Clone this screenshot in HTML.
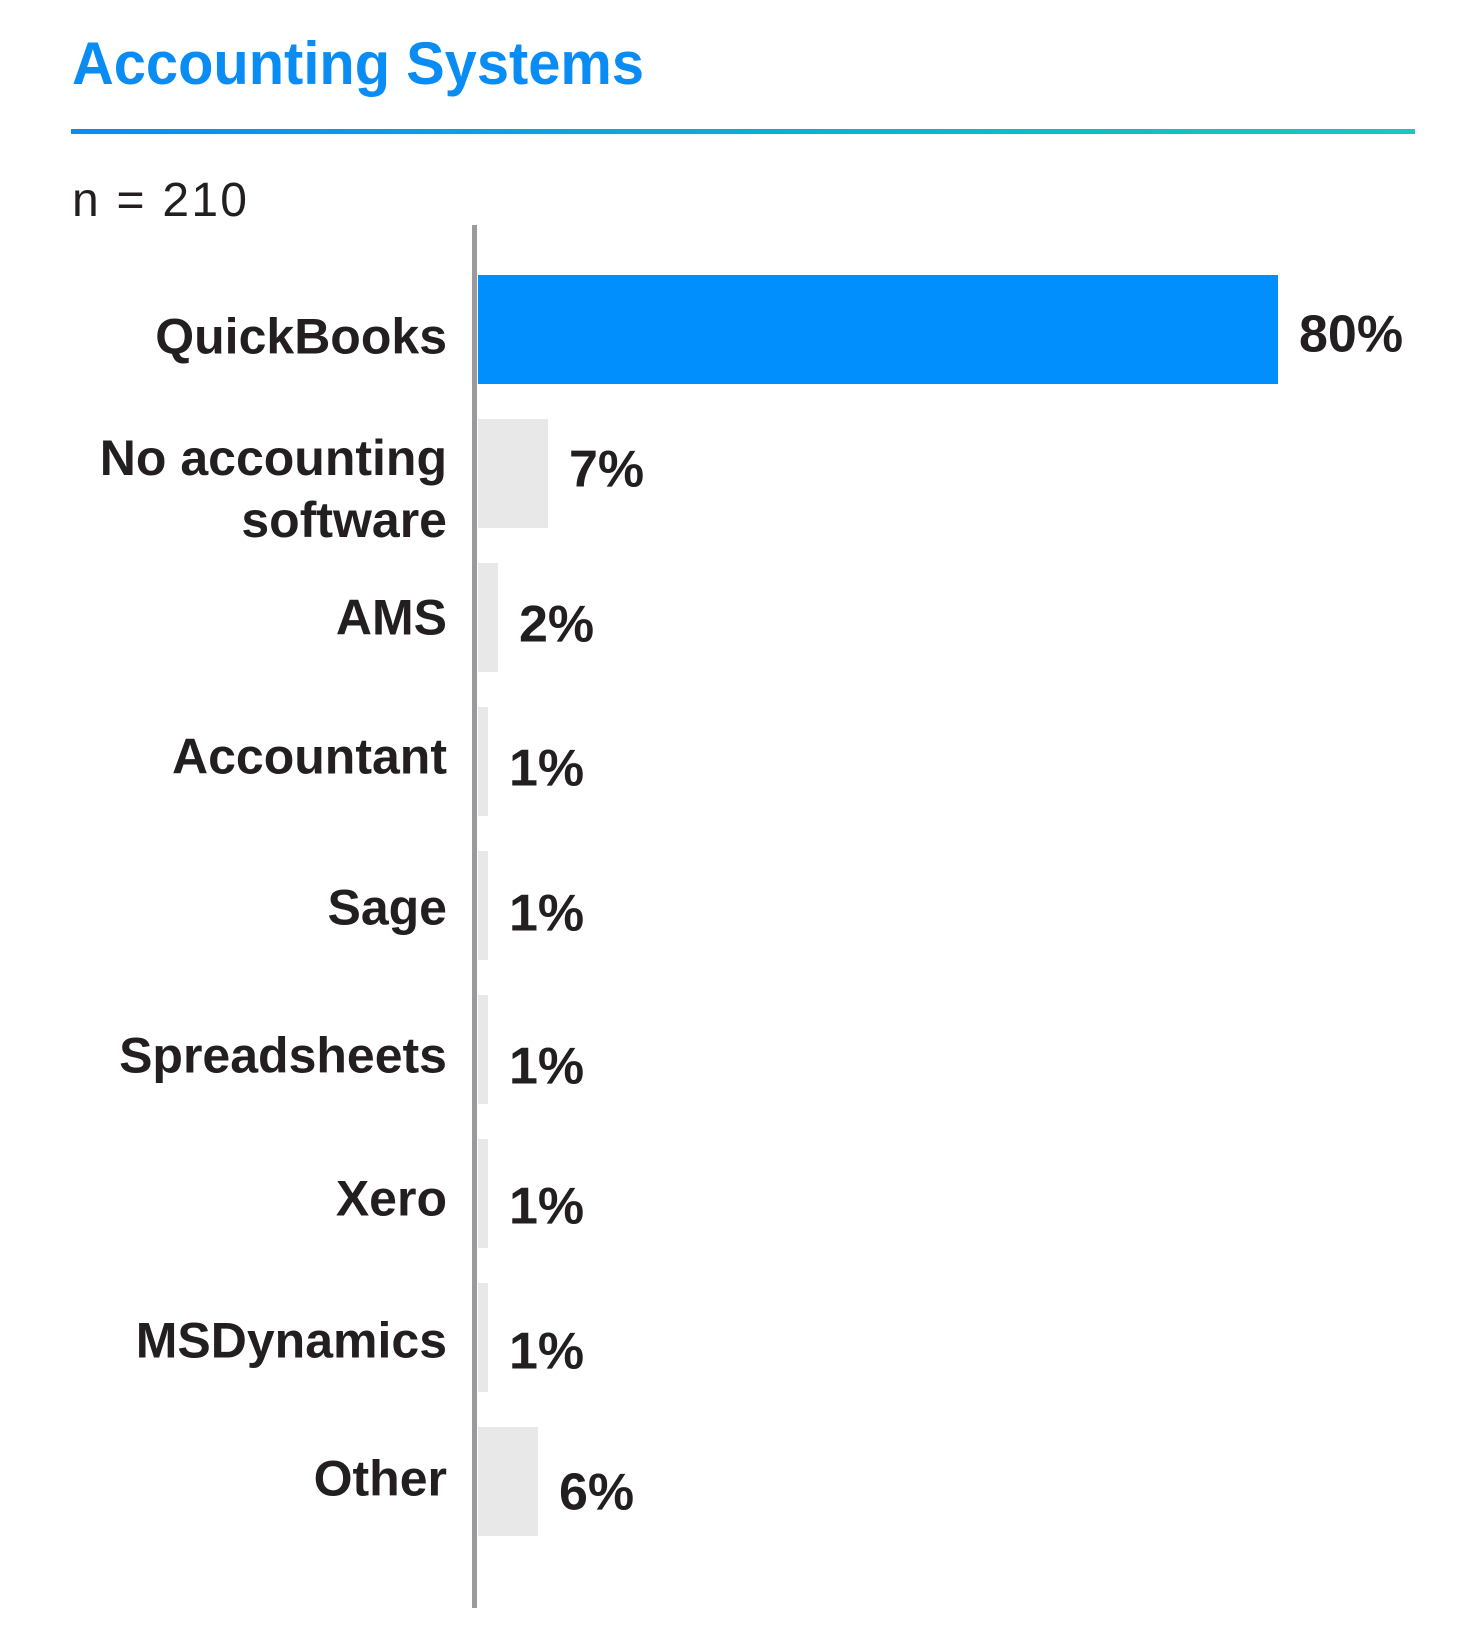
<!DOCTYPE html>
<html><head><meta charset="utf-8"><style>
html,body{margin:0;padding:0;background:#fff;}
svg{display:block;font-family:"Liberation Sans",sans-serif;}
</style></head><body>
<svg id="chart" width="1472" height="1634" viewBox="0 0 1472 1634" xmlns="http://www.w3.org/2000/svg">
<defs><linearGradient id="lg" x1="0" x2="1" y1="0" y2="0"><stop offset="0" stop-color="#0a8cf5"/><stop offset="1" stop-color="#12cbbf"/></linearGradient></defs>
<text x="72" y="84" font-size="60" font-weight="bold" fill="#0a8cf5" textLength="572" lengthAdjust="spacingAndGlyphs">Accounting Systems</text>
<rect x="71" y="129" width="1344" height="5" fill="url(#lg)"/>
<text x="72" y="216" font-size="48" fill="#231f20" textLength="175" lengthAdjust="spacing">n = 210</text>
<g id="bars"></g>
<rect x="472" y="225" width="5" height="1383" fill="#9a999e"/>
</svg>
<script>
const categories = ["QuickBooks", "No accounting|software", "AMS", "Accountant", "Sage", "Spreadsheets", "Xero", "MSDynamics", "Other"];
const values = [80, 7, 2, 1, 1, 1, 1, 1, 6];
const valueLabels = ["80%", "7%", "2%", "1%", "1%", "1%", "1%", "1%", "6%"];
const labelDy = [22, 13, 24, 24, 25, 34, 30, 31, 28];
const catDy = [24, 0, 17, 12, 19, 23, 22, 20, 14];

const x0 = 478, pxPer = 10, top0 = 275, pitch = 144, barH = 109;
const xScale = v => x0 + v * pxPer;
const yBand = i => top0 + i * pitch;
const g = document.getElementById('bars');
const NS = 'http://www.w3.org/2000/svg';
categories.forEach((c, i) => {
  const y = yBand(i), cy = y + barH / 2;
  const r = document.createElementNS(NS, 'rect');
  r.setAttribute('x', x0); r.setAttribute('y', y);
  r.setAttribute('width', xScale(values[i]) - x0); r.setAttribute('height', barH);
  r.setAttribute('fill', i === 0 ? '#028ffe' : '#e8e8e8');
  
  
  g.appendChild(r);
  const t = document.createElementNS(NS, 'text');
  t.setAttribute('x', xScale(values[i]) + 21); t.setAttribute('y', cy + labelDy[i]);
  t.setAttribute('font-size', '52'); t.setAttribute('font-weight', 'bold'); t.setAttribute('fill', '#231f20');
  t.textContent = valueLabels[i];
  
  
  g.appendChild(t);
  const lines = c.split('|');
  lines.forEach((ln, k) => {
    const l = document.createElementNS(NS, 'text');
    l.setAttribute('x', 447); l.setAttribute('text-anchor', 'end');
    const by = lines.length > 1 ? (k === 0 ? 475 : 537) : cy + catDy[i];
    l.setAttribute('y', by);
    l.setAttribute('font-size', '50'); l.setAttribute('font-weight', 'bold'); l.setAttribute('fill', '#231f20');
    l.textContent = ln;
    
    
    g.appendChild(l);
  });
});
</script>
</body></html>
